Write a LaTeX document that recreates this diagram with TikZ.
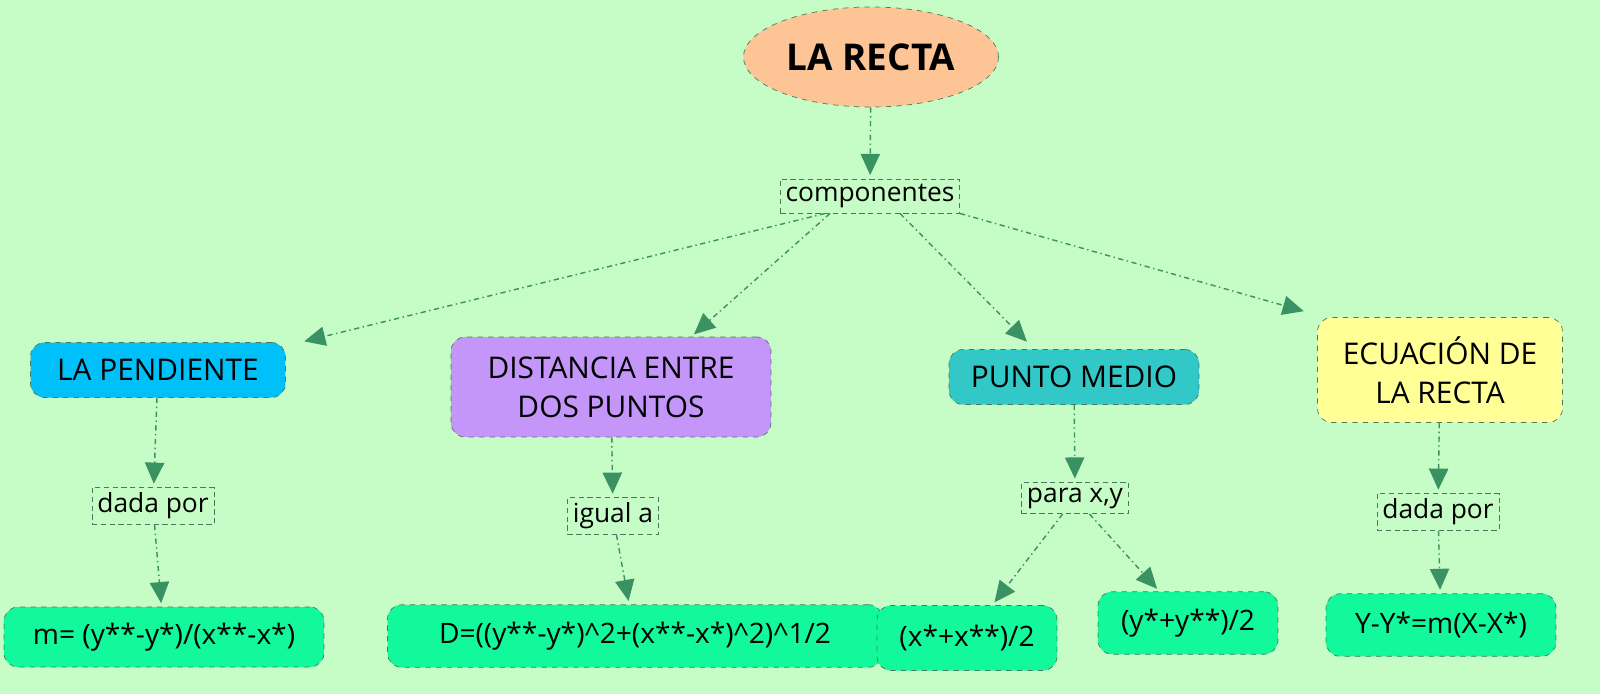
\documentclass[tikz,border=0pt]{standalone}
\usepackage{fontspec}
\setmainfont{Open Sans}
\usetikzlibrary{arrows.meta,shapes.geometric}
\definecolor{bg}{HTML}{C6FCC6}
\definecolor{ln}{HTML}{3A9262}
\definecolor{bd}{HTML}{4A7A5A}
\definecolor{res}{HTML}{11F99A}
\begin{document}
\begin{tikzpicture}[x=0.02cm,y=-0.02cm,
 box/.style={draw=bd,dashed,rounded corners=8pt,minimum height=1.1cm,font=\fontsize{17}{22}\selectfont,align=center,inner sep=5pt},
 lbl/.style={draw=bd,densely dashed,font=\fontsize{15}{19}\selectfont,inner sep=3pt},
 res/.style={box,fill=res,font=\fontsize{16}{20}\selectfont},
 arr/.style={draw=ln,thick,dash dot,-{Triangle[length=12pt,width=11pt]},shorten >=2pt}]
\fill[bg] (0,0) rectangle (1600,694);
\useasboundingbox (0,0) rectangle (1600,694);
\node[ellipse,draw=bd,dashed,fill={rgb,255:red,253;green,196;blue,149},minimum width=4.7cm,minimum height=2cm,font=\fontsize{21}{26}\selectfont\bfseries] (r) at (871,57) {LA RECTA};
\node[lbl] (c) at (870,196) {componentes};
\node[box,fill={rgb,255:red,0;green,192;blue,250},minimum width=5.1cm] (p) at (158,370) {LA PENDIENTE};
\node[box,fill={rgb,255:red,196;green,150;blue,250},minimum width=6.4cm,minimum height=2cm] (d) at (611,387) {DISTANCIA ENTRE\\DOS PUNTOS};
\node[box,fill={rgb,255:red,50;green,200;blue,200},minimum width=5cm] (m) at (1074,377) {PUNTO MEDIO};
\node[box,fill={rgb,255:red,255;green,255;blue,150},minimum width=4.9cm,minimum height=2.1cm] (e) at (1440,370) {ECUACIÓN DE\\LA RECTA};
\node[lbl] (l1) at (153,506) {dada por};
\node[lbl] (l2) at (613,516) {igual a};
\node[lbl] (l3) at (1075,498) {para x,y};
\node[lbl] (l4) at (1438,512) {dada por};
\node[res,minimum width=6.4cm,minimum height=1.2cm] (f1) at (164,637) {m= (y**-y*)/(x**-x*)};
\node[res,minimum width=9.9cm,minimum height=1.25cm] (f2) at (635,636) {D=((y**-y*)\^{}2+(x**-x*)\^{}2)\^{}1/2};
\node[res,minimum width=3.6cm,minimum height=1.3cm] (f3) at (967,638) {(x*+x**)/2};
\node[res,minimum width=3.6cm,minimum height=1.25cm] (f4) at (1188,623) {(y*+y**)/2};
\node[res,minimum width=4.6cm,minimum height=1.25cm] (f5) at (1441,625) {Y-Y*=m(X-X*)};
\draw[arr] ([xshift=-0.9cm]c.south) -- ([xshift=0.3cm]p.north east);
\draw[arr] ([xshift=-0.8cm]c.south) -- ([xshift=-1.6cm]d.north east);
\draw[arr] ([xshift=0.6cm]c.south) -- ([xshift=-3.4cm,yshift=0.1cm]m.north east);
\draw[arr] (c.south east) -- ([xshift=-0.2cm,yshift=0.1cm]e.north west);
\draw[arr] (r) -- (c);
\draw[arr] (p) -- (l1);
\draw[arr] (l1) -- (f1);
\draw[arr] (d) -- (l2);
\draw[arr] (l2) -- (f2);
\draw[arr] (m) -- (l3);
\draw[arr] (l3) -- (f3);
\draw[arr] (l3) -- (f4);
\draw[arr] (e) -- (l4);
\draw[arr] (l4) -- (f5);
\end{tikzpicture}
\end{document}
